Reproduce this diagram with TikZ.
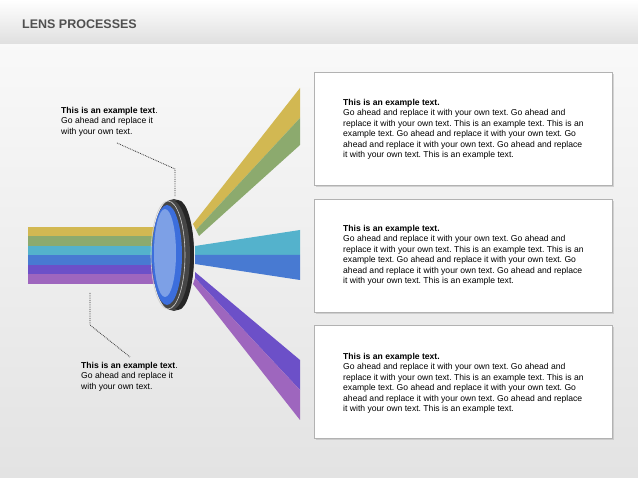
\documentclass[tikz,border=0pt]{standalone}
\usepackage{fontspec}
\setmainfont{Liberation Sans}
\usetikzlibrary{shadows}
\definecolor{cY}{RGB}{210,184,82}
\definecolor{cG}{RGB}{140,170,110}
\definecolor{cC}{RGB}{84,178,204}
\definecolor{cB}{RGB}{72,122,210}
\definecolor{cP}{RGB}{108,80,200}
\definecolor{cV}{RGB}{158,102,190}
\definecolor{lensB}{RGB}{60,110,220}
\definecolor{lensL}{RGB}{125,160,230}
\definecolor{titleC}{RGB}{80,80,80}
\frenchspacing
\begin{document}
\begin{tikzpicture}[x=1pt,y=-1pt,
  box/.style={draw=gray!60,fill=white,minimum width=298pt,minimum height=113pt,anchor=north west,drop shadow={shadow xshift=2pt,shadow yshift=-2pt,fill=gray!60}},
  txt/.style={anchor=north west,align=left,font=\fontsize{8.6}{10.4}\selectfont,inner sep=0pt},
  side/.style={anchor=north west,align=left,font=\fontsize{8.6}{10.4}\selectfont,inner sep=0pt},
  dot/.style={densely dotted,line width=0.8pt,black!80}]
\useasboundingbox (0,0) rectangle (638,478);
\shade[top color=gray!5,bottom color=gray!22] (0,44) rectangle (638,478);
\shade[top color=white,bottom color=gray!25] (0,0) rectangle (638,44);
\node[anchor=west,font=\bfseries\fontsize{12.5}{14}\selectfont,text=titleC,inner sep=0pt] (title) at (22,24) {LENS PROCESSES};
% left beams
\fill[cY] (28,227) rectangle (165,236.5);
\fill[cG] (28,236.5) rectangle (165,246);
\fill[cC] (28,246) rectangle (165,255.5);
\fill[cB] (28,255.5) rectangle (165,265);
\fill[cP] (28,265) rectangle (165,274.5);
\fill[cV] (28,274.5) rectangle (165,284);
% right beams
\fill[cY] (193,224) -- (300,88) -- (300,118) -- (196,230) -- cycle;
\fill[cG] (196,230) -- (300,118) -- (300,145) -- (199,236) -- cycle;
\fill[cC] (195,246) -- (300,230) -- (300,255) -- (195,255) -- cycle;
\fill[cB] (195,255) -- (300,255) -- (300,280) -- (195,264) -- cycle;
\fill[cP] (195,272) -- (300,360) -- (300,390) -- (195,278) -- cycle;
\fill[cV] (195,278) -- (300,390) -- (300,420) -- (193,284) -- cycle;
% lens
\fill[gray!55!black] (174,255) ellipse [x radius=20,y radius=56];
\fill[gray!30!black] (178,255) ellipse [x radius=16,y radius=55];
\fill[gray!55!black] (171,255) ellipse [x radius=19,y radius=55];
\draw[gray!40,line width=0.6pt] (168,255) ellipse [x radius=17,y radius=54];
\fill[lensB] (167,255) ellipse [x radius=15,y radius=50];
\fill[lensL] (165,253) ellipse [x radius=11,y radius=44];
\node (lens) at (172,255) {};
% boxes
\node[box] (b1) at (314,72) {};
\node[box] (b2) at (314,199) {};
\node[box] (b3) at (314,325) {};
\foreach \n/\y in {t1/99,t2/225,t3/353}{
\node[txt] (\n) at (343,\y) {\textbf{This is an example text.}\\Go ahead and replace it with your own text. Go ahead and\\replace it with your own text. This is an example text. This is an\\example text. Go ahead and replace it with your own text. Go\\ahead and replace it with your own text. Go ahead and replace\\it with your own text. This is an example text.};}
\node[side] (s1) at (61,107) {\textbf{This is an example text}.\\Go ahead and replace it\\with your own text.};
\node[side] (s2) at (81,362) {\textbf{This is an example text}.\\Go ahead and replace it\\with your own text.};
\coordinate (c1) at (117,143); \coordinate (c2) at (175,169); \coordinate (c3) at (175,197);
\draw[dot] (c1) -- (c2) -- (c3);
\coordinate (d1) at (90,293); \coordinate (d2) at (90,325); \coordinate (d3) at (130,357);
\draw[dot] (d1) -- (d2) -- (d3);
\end{tikzpicture}
\end{document}
